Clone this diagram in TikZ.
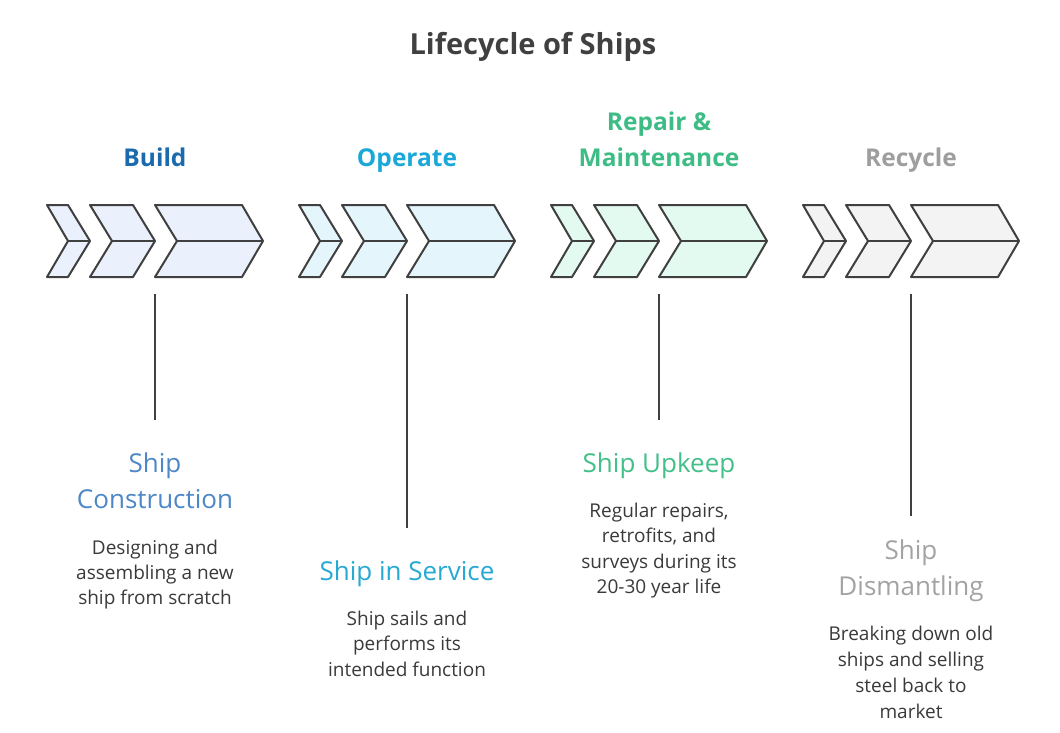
\documentclass[tikz,border=0pt]{standalone}
\usepackage{fontspec}
\setmainfont{Open Sans}
\definecolor{stroke}{HTML}{404040}
\definecolor{txt}{HTML}{3A3A3A}
\definecolor{headc}{HTML}{404040}
\definecolor{buildc}{HTML}{1A6AAD}
\definecolor{operc}{HTML}{1AA8D8}
\definecolor{repc}{HTML}{3DBD85}
\definecolor{recc}{HTML}{9E9E9E}
\definecolor{buildsub}{HTML}{4D87C7}
\definecolor{opersub}{HTML}{27A9D4}
\definecolor{repsub}{HTML}{43BF89}
\definecolor{recsub}{HTML}{A3A3A3}
\definecolor{buildf}{HTML}{EAF1FC}
\definecolor{operf}{HTML}{E5F5FC}
\definecolor{repf}{HTML}{E3FAF0}
\definecolor{recf}{HTML}{F3F3F3}
\tikzset{
  chevbox/.style={draw=stroke, line width=2pt, line join=round},
  stem/.style={draw=stroke, line width=1.6pt},
  heading/.style={anchor=base, inner sep=0pt, font=\fontsize{29}{34}\selectfont\bfseries, text=headc},
  phase/.style={anchor=base, inner sep=0pt, font=\fontsize{24.5}{30}\selectfont\bfseries},
  subt/.style={anchor=base, inner sep=0pt, font=\fontsize{26}{32}\selectfont},
  desc/.style={anchor=base, inner sep=0pt, font=\fontsize{19}{24}\selectfont, text=txt},
}
\newcommand{\chevgroup}[3]{%
  \begin{scope}[shift={(#1,0)}]
    \filldraw[chevbox, fill=#2] (0,205) -- (21,205) -- (43,241) -- (21,277) -- (0,277) -- (21,241) -- cycle;
    \draw[chevbox] (21,241) -- (43,241);
    \filldraw[chevbox, fill=#2] (43,205) -- (86,205) -- (108,241) -- (86,277) -- (43,277) -- (65,241) -- cycle;
    \draw[chevbox] (65,241) -- (108,241);
    \filldraw[chevbox, fill=#2] (108,205) -- (195,205) -- (216,241) -- (195,277) -- (108,277) -- (130,241) -- cycle;
    \draw[chevbox] (130,241) -- (216,241);
    \coordinate (#3top) at (108,294);
  \end{scope}}
\begin{document}
\begin{tikzpicture}[x=1pt,y=-1pt]
\useasboundingbox[fill=white] (0,0) rectangle (1060,733);
\node[heading] (title) at (533,55) {Lifecycle of Ships};

\node[phase, text=buildc] (pbuild) at (155,166) {Build};
\node[phase, text=operc] (poper) at (407,166) {Operate};
\node[phase, text=repc] (prep1) at (659,130.5) {Repair \&};
\node[phase, text=repc] (prep2) at (659,166) {Maintenance};
\node[phase, text=recc] (prec) at (911,166) {Recycle};

\chevgroup{47}{buildf}{b}
\chevgroup{299}{operf}{o}
\chevgroup{551}{repf}{r}
\chevgroup{803}{recf}{c}

\coordinate (bbot) at (155,420);
\coordinate (obot) at (407,528);
\coordinate (rbot) at (659,420);
\coordinate (cbot) at (911,516);
\draw[stem] (btop) -- (bbot);
\draw[stem] (otop) -- (obot);
\draw[stem] (rtop) -- (rbot);
\draw[stem] (ctop) -- (cbot);

% Build
\node[subt, text=buildsub] (sb1) at (155,472) {Ship};
\node[subt, text=buildsub] (sb2) at (155,508) {Construction};
\node[desc] (db1) at (155,554) {Designing and};
\node[desc] (db2) at (155,579) {assembling a new};
\node[desc] (db3) at (155,604) {ship from scratch};

% Operate
\node[subt, text=opersub] (so1) at (407,580) {Ship in Service};
\node[desc] (do1) at (407,625) {Ship sails and};
\node[desc] (do2) at (407,650.5) {performs its};
\node[desc] (do3) at (407,676) {intended function};

% Repair
\node[subt, text=repsub] (sr1) at (659,472) {Ship Upkeep};
\node[desc] (dr1) at (659,517) {Regular repairs,};
\node[desc] (dr2) at (659,542.5) {retrofits, and};
\node[desc] (dr3) at (659,568) {surveys during its};
\node[desc] (dr4) at (659,593.5) {20-30 year life};

% Recycle
\node[subt, text=recsub] (sc1) at (911,559) {Ship};
\node[subt, text=recsub] (sc2) at (911,595) {Dismantling};
\node[desc] (dc1) at (911,640.5) {Breaking down old};
\node[desc] (dc2) at (911,666.5) {ships and selling};
\node[desc] (dc3) at (911,692.5) {steel back to};
\node[desc] (dc4) at (911,718.5) {market};
\end{tikzpicture}
\end{document}
